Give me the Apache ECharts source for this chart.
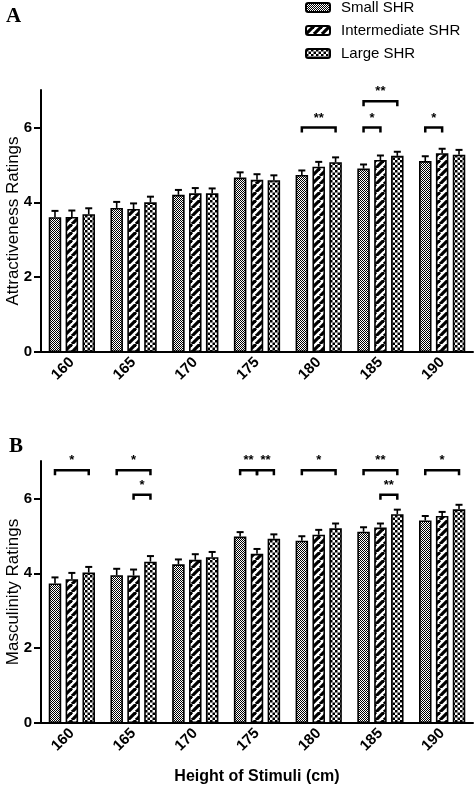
<!DOCTYPE html>
<html>
    <head>
        <meta charset="UTF-8" />
        <script src="https://cdn.jsdelivr.net/npm/echarts@6/dist/echarts.min.js"></script>
        <style>
            html, body { margin: 0; padding: 0; background: #fff; }
        </style>
    </head>

    <body>
        <div id="main" style="width: 474px; height: 789px"></div>
        <script type="text/javascript">
            // data
            var heights = ['160', '165', '170', '175', '180', '185', '190'];
            var groupNames = ['Small SHR', 'Intermediate SHR', 'Large SHR'];

            var attractSmall = [3.60, 3.85, 4.20, 4.66, 4.73, 4.90, 5.10];
            var attractInter = [3.61, 3.82, 4.24, 4.60, 4.95, 5.13, 5.31];
            var attractLarge = [3.68, 4.00, 4.24, 4.59, 5.07, 5.24, 5.27];
            var attractSmallErr = [0.17, 0.16, 0.13, 0.14, 0.12, 0.11, 0.13];
            var attractInterErr = [0.17, 0.15, 0.14, 0.15, 0.13, 0.12, 0.12];
            var attractLargeErr = [0.16, 0.15, 0.13, 0.13, 0.13, 0.11, 0.13];

            var mascSmall = [3.73, 3.95, 4.24, 4.98, 4.87, 5.11, 5.41];
            var mascInter = [3.84, 3.94, 4.36, 4.52, 5.03, 5.22, 5.53];
            var mascLarge = [4.02, 4.31, 4.43, 4.92, 5.20, 5.58, 5.71];
            var mascSmallErr = [0.16, 0.17, 0.13, 0.12, 0.12, 0.12, 0.12];
            var mascInterErr = [0.17, 0.16, 0.15, 0.13, 0.13, 0.11, 0.11];
            var mascLargeErr = [0.15, 0.15, 0.14, 0.12, 0.13, 0.12, 0.12];

            // significance brackets: [category, from group, to group, height]
            var attractBrackets = [[4, 0, 2, 6.0], [5, 0, 1, 6.0], [5, 0, 2, 6.7], [6, 0, 1, 6.0]];
            var attractStars = ['**', '*', '**', '*'];
            var mascBrackets = [[0, 0, 2, 6.75], [1, 0, 2, 6.75], [1, 1, 2, 6.1], [3, 0, 1, 6.75],
                                [3, 1, 2, 6.75], [4, 0, 2, 6.75], [5, 0, 2, 6.75], [5, 1, 2, 6.1], [6, 0, 2, 6.75]];
            var mascStars = ['*', '*', '*', '**', '**', '*', '**', '**', '*'];

            var yTicks = [0, 2, 4, 6];

            var FONT = 'Liberation Sans, Arial, sans-serif';
            var BAR_W = 12.5;
            var BAR_GAP = 0.35;
            var step = BAR_W * (1 + BAR_GAP);
            var offsets = [-step, 0, step];

            // fill patterns
            function patSmall() {
                var c = document.createElement('canvas');
                c.width = 2; c.height = 2;
                var ctx = c.getContext('2d');
                ctx.fillStyle = '#fff'; ctx.fillRect(0, 0, 2, 2);
                ctx.fillStyle = '#000';
                ctx.fillRect(0, 0, 1, 1); ctx.fillRect(1, 1, 1, 1);
                return c;
            }
            function patStripe() {
                var s = 8;
                var c = document.createElement('canvas');
                c.width = s; c.height = s;
                var ctx = c.getContext('2d');
                ctx.fillStyle = '#fff'; ctx.fillRect(0, 0, s, s);
                ctx.strokeStyle = '#000'; ctx.lineWidth = 3.2;
                for (var k = -1; k <= 1; k++) {
                    ctx.beginPath();
                    ctx.moveTo(k * s, s);
                    ctx.lineTo(k * s + s, 0);
                    ctx.stroke();
                }
                return c;
            }
            function patChecker() {
                var c = document.createElement('canvas');
                c.width = 5; c.height = 5;
                var ctx = c.getContext('2d');
                ctx.fillStyle = '#fff'; ctx.fillRect(0, 0, 5, 5);
                ctx.fillStyle = '#000';
                ctx.fillRect(0, 0, 2.5, 2.5); ctx.fillRect(2.5, 2.5, 2.5, 2.5);
                return c;
            }
            var patterns = [
                { image: patSmall(), repeat: 'repeat' },
                { image: patStripe(), repeat: 'repeat' },
                { image: patChecker(), repeat: 'repeat' }
            ];

            function barSeries(name, idx, data, axis) {
                return {
                    name: name,
                    type: 'bar',
                    xAxisIndex: axis,
                    yAxisIndex: axis,
                    barWidth: BAR_W,
                    barGap: (BAR_GAP * 100) + '%',
                    itemStyle: { color: patterns[idx], borderColor: '#000', borderWidth: 1.6 },
                    data: data
                };
            }

            function errSeries(name, idx, vals, errs, axis) {
                var d = vals.map(function (v, i) { return [i, v, errs[i]]; });
                return {
                    name: name,
                    type: 'custom',
                    xAxisIndex: axis,
                    yAxisIndex: axis,
                    z: 3,
                    renderItem: function (params, api) {
                        var p0 = api.coord([api.value(0), api.value(1)]);
                        var p1 = api.coord([api.value(0), api.value(1) + api.value(2)]);
                        var x = p0[0] + offsets[idx];
                        return {
                            type: 'group',
                            children: [
                                { type: 'line', shape: { x1: x, y1: p0[1], x2: x, y2: p1[1] },
                                  style: { stroke: '#000', lineWidth: 1.6 } },
                                { type: 'line', shape: { x1: x - 3.5, y1: p1[1], x2: x + 3.5, y2: p1[1] },
                                  style: { stroke: '#000', lineWidth: 2 } }
                            ]
                        };
                    },
                    data: d
                };
            }

            function bracketSeries(list, stars, axis) {
                return {
                    type: 'custom',
                    xAxisIndex: axis,
                    yAxisIndex: axis,
                    z: 4,
                    renderItem: function (params, api) {
                        var cat = api.value(0);
                        var p = api.coord([cat, api.value(3)]);
                        var x1 = p[0] + offsets[api.value(1)];
                        var x2 = p[0] + offsets[api.value(2)];
                        var y = p[1];
                        return {
                            type: 'group',
                            children: [
                                { type: 'polyline', shape: { points: [[x1, y + 5], [x1, y], [x2, y], [x2, y + 5]] },
                                  style: { stroke: '#000', lineWidth: 2.5, fill: null } },
                                { type: 'text', x: (x1 + x2) / 2, y: y - 3,
                                  style: { text: stars[params.dataIndex], fill: '#000', font: 'bold 13px ' + FONT,
                                           align: 'center', verticalAlign: 'bottom' } }
                            ]
                        };
                    },
                    data: list
                };
            }

            function xAxisOpt(grid, name) {
                return {
                    type: 'category',
                    gridIndex: grid,
                    data: heights,
                    name: name,
                    nameLocation: 'middle',
                    nameGap: 46,
                    nameMoveOverlap: false,
                    nameTextStyle: { fontSize: 16, fontWeight: 'bold', color: '#000', fontFamily: FONT },
                    axisLine: { lineStyle: { color: '#000', width: 2 } },
                    axisTick: { alignWithLabel: true, length: 5, lineStyle: { width: 2 } },
                    axisLabel: { rotate: 45, fontSize: 15, fontWeight: 'bold', color: '#000', margin: 8, fontFamily: FONT }
                };
            }

            function yAxisOpt(grid, name) {
                return {
                    type: 'value',
                    gridIndex: grid,
                    min: 0,
                    max: 7,
                    interval: 2,
                    name: name,
                    nameLocation: 'middle',
                    nameGap: 19,
                    nameMoveOverlap: false,
                    nameTextStyle: { fontSize: 17, color: '#000', fontFamily: FONT },
                    splitLine: { show: false },
                    axisLine: { show: true, lineStyle: { color: '#000', width: 2 } },
                    axisTick: { show: true, length: 7, customValues: yTicks, lineStyle: { width: 2 } },
                    axisLabel: { fontSize: 15, fontWeight: 'bold', color: '#000', margin: 9,
                                 customValues: yTicks, fontFamily: FONT }
                };
            }

            var chartDom = document.getElementById('main');
            var myChart = echarts.init(chartDom);
            var option;

            option = {
                animation: false,
                textStyle: { fontFamily: FONT },
                title: [
                    { text: 'A', left: 1, top: 1,
                      textStyle: { fontFamily: 'Liberation Serif, serif', fontWeight: 'bold', fontSize: 21, color: '#000' } },
                    { text: 'B', left: 4, top: 431,
                      textStyle: { fontFamily: 'Liberation Serif, serif', fontWeight: 'bold', fontSize: 21, color: '#000' } }
                ],
                legend: {
                    data: groupNames,
                    orient: 'vertical',
                    left: 305,
                    top: 0,
                    padding: 0,
                    itemWidth: 24,
                    itemHeight: 9,
                    itemGap: 8,
                    textStyle: { fontSize: 15, color: '#000', fontFamily: FONT, padding: [0, 0, 0, 6] }
                },
                grid: [
                    { left: 41, right: 1, top: 90, height: 262, outerBoundsMode: 'none', containLabel: false },
                    { left: 41, right: 1, top: 461, height: 262, outerBoundsMode: 'none', containLabel: false }
                ],
                xAxis: [xAxisOpt(0, ''), xAxisOpt(1, 'Height of Stimuli (cm)')],
                yAxis: [yAxisOpt(0, 'Attractiveness Ratings'), yAxisOpt(1, 'Masculinity Ratings')],
                series: [
                    barSeries(groupNames[0], 0, attractSmall, 0),
                    barSeries(groupNames[1], 1, attractInter, 0),
                    barSeries(groupNames[2], 2, attractLarge, 0),
                    barSeries(groupNames[0], 0, mascSmall, 1),
                    barSeries(groupNames[1], 1, mascInter, 1),
                    barSeries(groupNames[2], 2, mascLarge, 1),
                    errSeries(groupNames[0], 0, attractSmall, attractSmallErr, 0),
                    errSeries(groupNames[1], 1, attractInter, attractInterErr, 0),
                    errSeries(groupNames[2], 2, attractLarge, attractLargeErr, 0),
                    errSeries(groupNames[0], 0, mascSmall, mascSmallErr, 1),
                    errSeries(groupNames[1], 1, mascInter, mascInterErr, 1),
                    errSeries(groupNames[2], 2, mascLarge, mascLargeErr, 1),
                    bracketSeries(attractBrackets, attractStars, 0),
                    bracketSeries(mascBrackets, mascStars, 1)
                ]
            };

            option && myChart.setOption(option);
        </script>
    </body>
</html>
